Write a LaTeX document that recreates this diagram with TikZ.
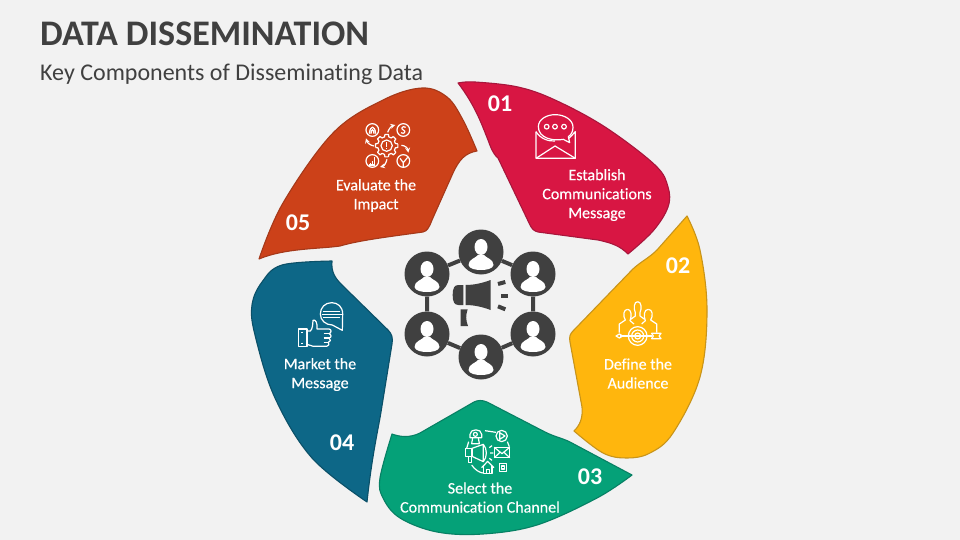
\documentclass[tikz,border=0pt]{standalone}
\usepackage{fontspec}
\setmainfont[Ligatures=CommonOff]{Carlito}
\definecolor{pagegray}{HTML}{F2F2F2}
\definecolor{hubgray}{HTML}{404040}
\definecolor{titlegray}{HTML}{404040}
\definecolor{evalfill}{HTML}{CC4119}
\definecolor{evaldraw}{HTML}{A5391A}
\definecolor{estfill}{HTML}{D81643}
\definecolor{estdraw}{HTML}{A8163C}
\definecolor{audfill}{HTML}{FFB60D}
\definecolor{auddraw}{HTML}{C8941A}
\definecolor{chanfill}{HTML}{05A178}
\definecolor{chandraw}{HTML}{078064}
\definecolor{markfill}{HTML}{0D6787}
\definecolor{markdraw}{HTML}{0B5068}
\tikzset{
  petal/.style 2 args={fill=#1,draw=#2,line width=1.1pt,line join=round},
  numtext/.style={text=white,font=\fontsize{24}{24}\selectfont\bfseries},
  steptext/.style={text=white,align=center,font=\fontsize{16}{19}\selectfont\addfontfeature{FakeBold=0.3}\setlength{\baselineskip}{19pt}},
  icon/.style={draw=white,line width=1.2pt,line join=round},
  hubdot/.style={circle,fill=hubgray,minimum size=45pt,inner sep=0pt},
  hublink/.style={draw=hubgray,line width=4pt},
  person/.pic={
    \fill[white] (-3,3) .. controls (-5,6) and (-12.5,7) .. (-12.5,13) .. controls (-12,17) and (-5,18) .. (0,18)
      .. controls (5,18) and (12,17) .. (12.5,13) .. controls (12.5,7) and (5,6) .. (3,3) -- cycle;
    \fill[white] (0,-5) ellipse (6.5 and 8);
  }
}
\begin{document}
\begin{tikzpicture}[x=1pt,y=-1pt]
  \useasboundingbox[fill=pagegray] (0,0) rectangle (960,540);

  % Title and subtitle
  \node[anchor=west,inner sep=0pt,text=titlegray,font=\fontsize{36}{36}\selectfont\bfseries] (title) at (40,34) {DATA DISSEMINATION};
  \node[anchor=west,inner sep=0pt,text=titlegray,font=\fontsize{24}{24}\selectfont] (subtitle) at (40,74) {Key Components of Disseminating Data};

  % The five petals
  \draw[petal={evalfill}{evaldraw}] plot[smooth,tension=.6] coordinates {(259,259) (283,203) (333,133) (383,100) (422,88) (447,97) (463,120) (477,151)}
    .. controls (465,153) and (459,160) .. (453,173) -- (432,220) .. controls (429,228) and (427,231) .. (423,232)
    .. controls (395,236) and (360,240) .. (340,246) .. controls (320,249) and (285,248) .. (259,259) -- cycle;
  \draw[petal={estfill}{estdraw}] plot[smooth,tension=.6] coordinates {(458,83) (475,82) (518,87) (555,100) (605,127) (655,165) (668,187) (668,207) (653,231) (628,254)}
    .. controls (620,246) and (612,243) .. (598,240) -- (538,232) .. controls (534,231) and (532,229) .. (530,225) -- (498,158)
    .. controls (492,153) and (490,145) .. (488,140) .. controls (482,125) and (475,105) .. (458,83) -- cycle;
  \draw[petal={audfill}{auddraw}] plot[smooth,tension=.6] coordinates {(687,216) (700,250) (707,310) (700,377) (673,433) (650,453) (627,458) (603,453) (574,431)}
    .. controls (580,425) and (583,418) .. (582,407) -- (570,342) .. controls (569,337) and (570,334) .. (573,331) -- (630,272)
    .. controls (638,263) and (648,259) .. (657,250) -- (687,216) -- cycle;
  \draw[petal={chanfill}{chandraw}] plot[smooth,tension=.6] coordinates {(632,475) (597,498) (537,525) (483,534) (437,532) (400,518) (383,498) (380,478) (392,434)}
    .. controls (400,437) and (410,438) .. (420,433) -- (474,402) .. controls (478,400) and (482,400) .. (487,402) -- (545,432)
    .. controls (555,437) and (562,438) .. (570,442) -- (632,475) -- cycle;
  \draw[petal={markfill}{markdraw}] plot[smooth,tension=.6] coordinates {(367,502) (312,458) (275,398) (255,335) (252,305) (262,282) (282,265) (332,261)}
    .. controls (331,272) and (335,278) .. (342,285) -- (388,330) .. controls (392,334) and (393,338) .. (392,344) -- (381,412)
    .. controls (379,425) and (372,455) .. (367,502) -- cycle;

  % Numbers
  \node[numtext] (num1) at (500,104) {01};
  \node[numtext] (num2) at (678,266) {02};
  \node[numtext] (num3) at (590,477) {03};
  \node[numtext] (num4) at (342,443) {04};
  \node[numtext] (num5) at (298,223) {05};

  % Labels
  \node[steptext] (lab1) at (597,195) {Establish\\Communications\\Message};
  \node[steptext] (lab2) at (638,373.5) {Define the\\Audience};
  \node[steptext] (lab3) at (480,497.5) {Select the\\Communication Channel};
  \node[steptext] (lab4) at (320,374.5) {Market the\\Message};
  \node[steptext] (lab5) at (376,195.5) {Evaluate the\\Impact};

  % Centre hub
  \node[hubdot] (hubtop) at (481,252) {};
  \node[hubdot] (hubright) at (533,274) {};
  \node[hubdot] (hublowright) at (533,334) {};
  \node[hubdot] (hubbottom) at (481,357) {};
  \node[hubdot] (hublowleft) at (427,334) {};
  \node[hubdot] (hubleft) at (427,274) {};
  \draw[hublink] (hubtop) -- (hubright) -- (hublowright) -- (hubbottom) -- (hublowleft) -- (hubleft) -- (hubtop);
  \foreach \hub in {hubtop,hubright,hublowright,hubbottom,hublowleft,hubleft}
    \pic at (\hub) {person};

  % Megaphone
  \begin{scope}[shift={(395,220)},scale=1/3]
    \fill[hubgray] (205,195) -- (190,195) .. controls (178,195) and (173,205) .. (173,225) .. controls (173,245) and (178,255) .. (190,255) -- (205,255) -- cycle;
    \fill[hubgray] (212,195) .. controls (240,195) and (265,188) .. (287,180) -- (287,270) .. controls (265,262) and (240,255) .. (212,255) -- cycle;
    \fill[hubgray] (197,268) -- (218,268) .. controls (212,285) and (212,300) .. (219,318) -- (197,318) -- cycle;
    \draw[hubgray,line width=4pt] (309,192) -- (331,186);
    \draw[hubgray,line width=4pt] (318,229) -- (339,229);
    \draw[hubgray,line width=4pt] (309,259) -- (331,268);
  \end{scope}

  % Envelope icon
  \begin{scope}[shift={(455,70)},scale=1/3,icon]
    \draw (250,170) .. controls (250,148) and (275,134) .. (300,134) .. controls (330,134) and (354,150) .. (354,172)
      .. controls (354,185) and (348,195) .. (340,200) -- (344,218) -- (325,208) .. controls (295,214) and (250,205) .. (250,170);
    \draw (243,185) -- (243,265) -- (361,265) -- (361,185) -- (342,205);
    \draw (243,185) .. controls (255,205) and (280,215) .. (300,213);
    \draw (243,265) -- (300,228) -- (361,265);
    \foreach \dotx in {275,300,327} \draw (\dotx,170) circle (7);
  \end{scope}

  % Target and people icon
  \begin{scope}[shift={(560,210)},scale=1/3,icon]
    \draw (233,275) .. controls (222,275) and (220,295) .. (226,308) -- (226,318) -- (212,328);
    \draw (233,275) .. controls (244,275) and (246,295) .. (240,308) -- (240,318) -- (254,328);
    \draw (203,298) .. controls (190,298) and (188,318) .. (196,330) -- (178,342) -- (178,368);
    \draw (203,298) .. controls (214,298) and (216,318) .. (210,332) -- (222,342);
    \draw (265,298) .. controls (252,298) and (250,318) .. (256,332) -- (245,342);
    \draw (265,298) .. controls (278,298) and (280,318) .. (272,330) -- (290,342) -- (290,368);
    \fill[audfill] (233,378) circle (29);
    \draw (233,378) circle (28) (233,378) circle (18) (233,378) circle (9);
    \draw (180,378) -- (275,378);
    \draw (168,378) -- (178,372) -- (188,378) -- (178,384) -- cycle;
    \draw (275,370) -- (303,370) -- (297,378) -- (303,386) -- (275,386) -- (280,378) -- cycle;
  \end{scope}

  % Channels icon
  \begin{scope}[shift={(370,395)},scale=1/3,icon]
    \draw (345,107) -- (378,112);
    \draw (412,140) -- (418,155);
    \draw (305,210) .. controls (315,225) and (328,232) .. (338,234);
    \draw (296,140) -- (290,160);
    \draw (300,118) .. controls (300,100) and (335,100) .. (335,118) -- (335,128) -- (300,128) -- cycle;
    \draw (308,128) -- (305,146) -- (328,146) -- (325,128);
    \draw (316,118) circle (6);
    \draw (395,123) circle (17);
    \draw (389,113) -- (405,123) -- (389,133) -- cycle;
    \draw (306,160) -- (340,148) -- (340,200) -- (306,184) -- cycle;
    \draw (287,160) rectangle (306,184);
    \draw (296,184) -- (296,203) -- (305,203) -- (305,186);
    \draw (340,148) .. controls (352,160) and (352,188) .. (340,200);
    \draw (358,158) -- (366,152) (360,174) -- (370,174) (358,190) -- (366,196);
    \draw (373,157) rectangle (419,188);
    \draw (373,157) -- (396,176) -- (419,157);
    \draw (373,188) -- (390,172) (419,188) -- (402,172);
    \draw (335,218) -- (353,199) -- (372,218);
    \draw (340,214) -- (340,235) -- (366,235) -- (366,214);
    \draw (349,235) -- (349,224) -- (358,224) -- (358,235);
    \draw (388,205) rectangle (410,230);
    \draw (394,213) rectangle (404,222);
  \end{scope}

  % Thumb and bubble icon
  \begin{scope}[shift={(245,255)},scale=1/3,icon]
    \draw (293,177) .. controls (293,155) and (278,143) .. (260,143) .. controls (240,143) and (226,158) .. (226,177)
      .. controls (226,196) and (242,210) .. (262,210) -- (292,226) -- cycle;
    \draw[line width=.9pt] (234,170) -- (286,170) (230,178) -- (290,178) (234,186) -- (286,186);
    \draw (160,222) rectangle (186,275);
    \draw (171,230) -- (171,232) (171,263) -- (171,265);
    \draw (186,228) -- (196,228) .. controls (203,222) and (203,208) .. (204,196) .. controls (212,192) and (218,205) .. (216,222)
      -- (252,222) .. controls (260,222) and (260,234) .. (252,236) .. controls (260,238) and (260,248) .. (252,249)
      .. controls (258,252) and (258,262) .. (250,262) .. controls (254,266) and (252,274) .. (245,274) -- (205,274) -- (186,268);
    \draw (236,236) -- (252,236) (236,249) -- (252,249) (236,262) -- (250,262);
  \end{scope}

  % Gear and dials icon
  \begin{scope}[shift={(240,70)},scale=1/3,icon]
    \draw (397,180) circle (19) (490,180) circle (19) (397,273) circle (19) (490,273) circle (19);
    \draw (388,191) .. controls (390,165) and (405,165) .. (407,191) (393,191) .. controls (394,175) and (401,175) .. (402,191);
    \draw (497,172) .. controls (488,166) and (480,176) .. (490,180) .. controls (500,184) and (492,194) .. (483,188);
    \draw (388,285) -- (405,285) (391,284) -- (391,279) (397,284) -- (397,272) (403,284) -- (403,262);
    \draw (480,265) -- (490,278) -- (503,262) (490,278) -- (490,291);
    \draw (440,227) circle (17);
    \draw[line width=1.6pt] (440,216) -- (440,230) (440,235) -- (440,238);
    \begin{scope}[shift={(440,227)}]
      \foreach \gearang in {0,45,...,315}
        \draw (\gearang-9:34) -- (\gearang+9:34) -- (\gearang+14:27) -- (\gearang+31:27) -- (\gearang+36:34);
    \end{scope}
    \draw[-stealth] (443,187) .. controls (447,175) and (455,168) .. (466,165);
    \draw[-stealth] (484,226) .. controls (495,226) and (503,235) .. (505,248);
    \draw[-stealth] (441,268) .. controls (438,280) and (432,288) .. (420,291);
    \draw[-stealth] (402,228) .. controls (390,226) and (382,218) .. (378,205);
  \end{scope}
\end{tikzpicture}
\end{document}
